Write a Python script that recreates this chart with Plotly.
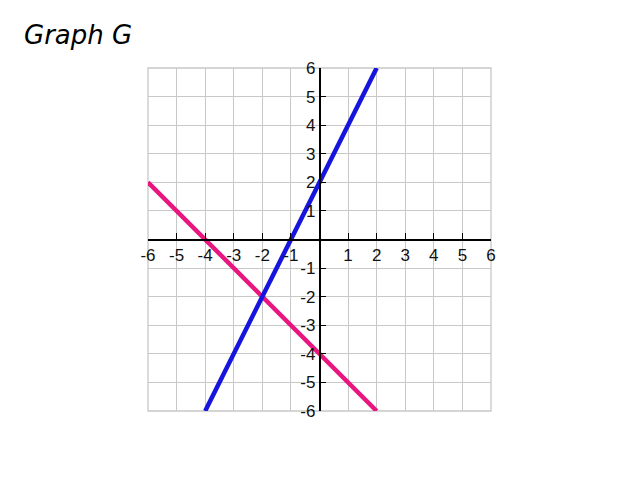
import plotly.graph_objects as go

# endpoints of the two lines
blue_x = [-4, 2]
blue_y = [-6, 6]
pink_x = [-6, 2]
pink_y = [2, -6]

tick_vals = [-6, -5, -4, -3, -2, -1, 1, 2, 3, 4, 5, 6]

fig = go.Figure()
fig.add_trace(go.Scatter(x=pink_x, y=pink_y, mode='lines',
                         line=dict(color='#E8177F', width=4.5)))
fig.add_trace(go.Scatter(x=blue_x, y=blue_y, mode='lines',
                         line=dict(color='#1515DD', width=4.5)))

axis_font = dict(family="Liberation Sans, Arial, sans-serif", size=17, color='#111111')

fig.update_layout(
    width=622, height=462,
    margin=dict(l=140, r=139, t=60, b=59),
    paper_bgcolor='white',
    plot_bgcolor='white',
    showlegend=False,
    xaxis=dict(range=[-6, 6], tickvals=tick_vals, ticktext=[str(v) for v in tick_vals],
               showgrid=True, gridcolor='#C8C8C8', gridwidth=1.3,
               zeroline=False, showline=True, linecolor='black', linewidth=1.5,
               anchor='free', position=0.5,
               ticks='inside', ticklen=6, tickcolor='black', tickwidth=1,
               tickfont=axis_font, fixedrange=True),
    yaxis=dict(range=[-6, 6], tickvals=tick_vals, ticktext=[str(v) for v in tick_vals],
               showgrid=True, gridcolor='#C8C8C8', gridwidth=1.3,
               zeroline=False, showline=True, linecolor='black', linewidth=1.5,
               anchor='free', position=0.5,
               ticks='inside', ticklen=6, tickcolor='black', tickwidth=1,
               tickfont=axis_font, fixedrange=True),
)

# outer grey border of the grid
fig.add_shape(type='rect', xref='paper', yref='paper', x0=0, y0=0, x1=1, y1=1,
              line=dict(color='#C8C8C8', width=1.3), layer='below')

fig.add_annotation(text="Graph G", xref='paper', yref='paper',
                   x=-0.367, y=1.096, xanchor='left', yanchor='middle', showarrow=False,
                   font=dict(family="DejaVu Sans", size=26, color='black', style='italic'))

fig.write_html("out.html")
